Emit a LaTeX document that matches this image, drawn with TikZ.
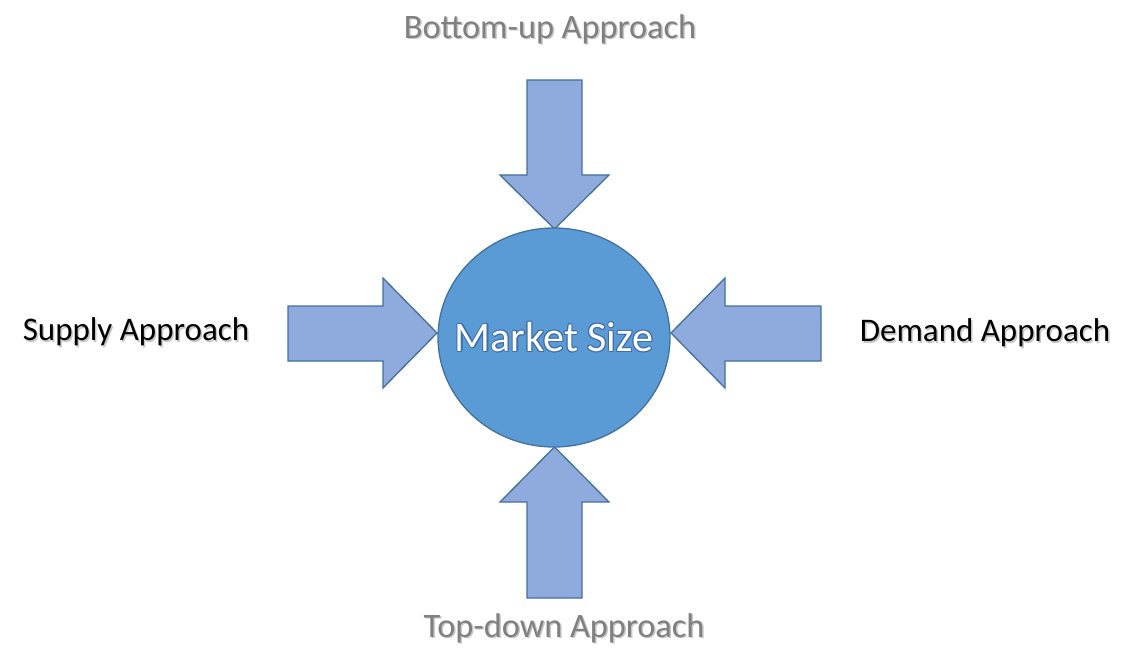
\documentclass[tikz,border=0pt]{standalone}
\usepackage{fontspec}
\setmainfont{Carlito}
\usetikzlibrary{shapes.geometric}
\definecolor{ellfill}{HTML}{5B9BD5}
\definecolor{ellline}{HTML}{41719C}
\definecolor{arrfill}{HTML}{8FAADC}
\definecolor{arrline}{HTML}{41719C}
\definecolor{graytxt}{HTML}{808080}
\definecolor{glow}{HTML}{3E6EAA}
\begin{document}
\begin{tikzpicture}[x=1pt,y=-1pt,
  arrowshape/.style={fill=arrfill,draw=arrline,line width=1.3pt,line join=miter},
  grayfont/.style={font=\fontsize{34.3}{40}\selectfont},
  blackfont/.style={font=\fontsize{33}{38}\selectfont},
  msfont/.style={font=\fontsize{42}{46}\selectfont},
  graylabel/.style={grayfont,text=graytxt,inner sep=0pt},
  blacklabel/.style={blackfont,text=black,inner sep=0pt},
  shadowlabel/.style={text=black!22,inner sep=0pt}]
\useasboundingbox (0,0) rectangle (1143,655);
% arrows
\draw[arrowshape] (527,80) -- (582,80) -- (582,175) -- (609,175) -- (554.5,229) -- (500,175) -- (527,175) -- cycle;
\draw[arrowshape] (527,598) -- (582,598) -- (582,502) -- (609,502) -- (554.5,447) -- (500,502) -- (527,502) -- cycle;
\draw[arrowshape] (288,306) -- (383,306) -- (383,278) -- (437,333) -- (383,388) -- (383,361) -- (288,361) -- cycle;
\draw[arrowshape] (821,306) -- (725,306) -- (725,278) -- (671,333) -- (725,388) -- (725,361) -- (821,361) -- cycle;
% ellipse
\node (ms) [ellipse,minimum width=232pt,minimum height=219pt,fill=ellfill,draw=ellline,line width=1.3pt,inner sep=0pt] at (554,337.5) {};
% Market Size text with glow
\foreach \dx/\dy in {1.1/0,-1.1/0,0/1.1,0/-1.1,0.8/0.8,-0.8/0.8,0.8/-0.8,-0.8/-0.8}{
  \node[text=glow,msfont,inner sep=0pt] at (554+\dx,337+\dy) {Market Size};
}
\node (mstxt) [text=white,msfont,inner sep=0pt] at (554,337) {Market Size};
% labels with soft shadows
\node[shadowlabel,grayfont] at (551.5,30.5) {Bottom-up Approach};
\node (bu) [graylabel] at (550,29) {Bottom-up Approach};
\node[shadowlabel,grayfont] at (565.5,629.5) {Top-down Approach};
\node (td) [graylabel] at (564,628) {Top-down Approach};
\node[shadowlabel,blackfont] at (137.5,333.5) {Supply Approach};
\node (sa) [blacklabel] at (136,332) {Supply Approach};
\node[shadowlabel,blackfont] at (986.5,334.5) {Demand Approach};
\node (da) [blacklabel] at (985,333) {Demand Approach};
\end{tikzpicture}
\end{document}
